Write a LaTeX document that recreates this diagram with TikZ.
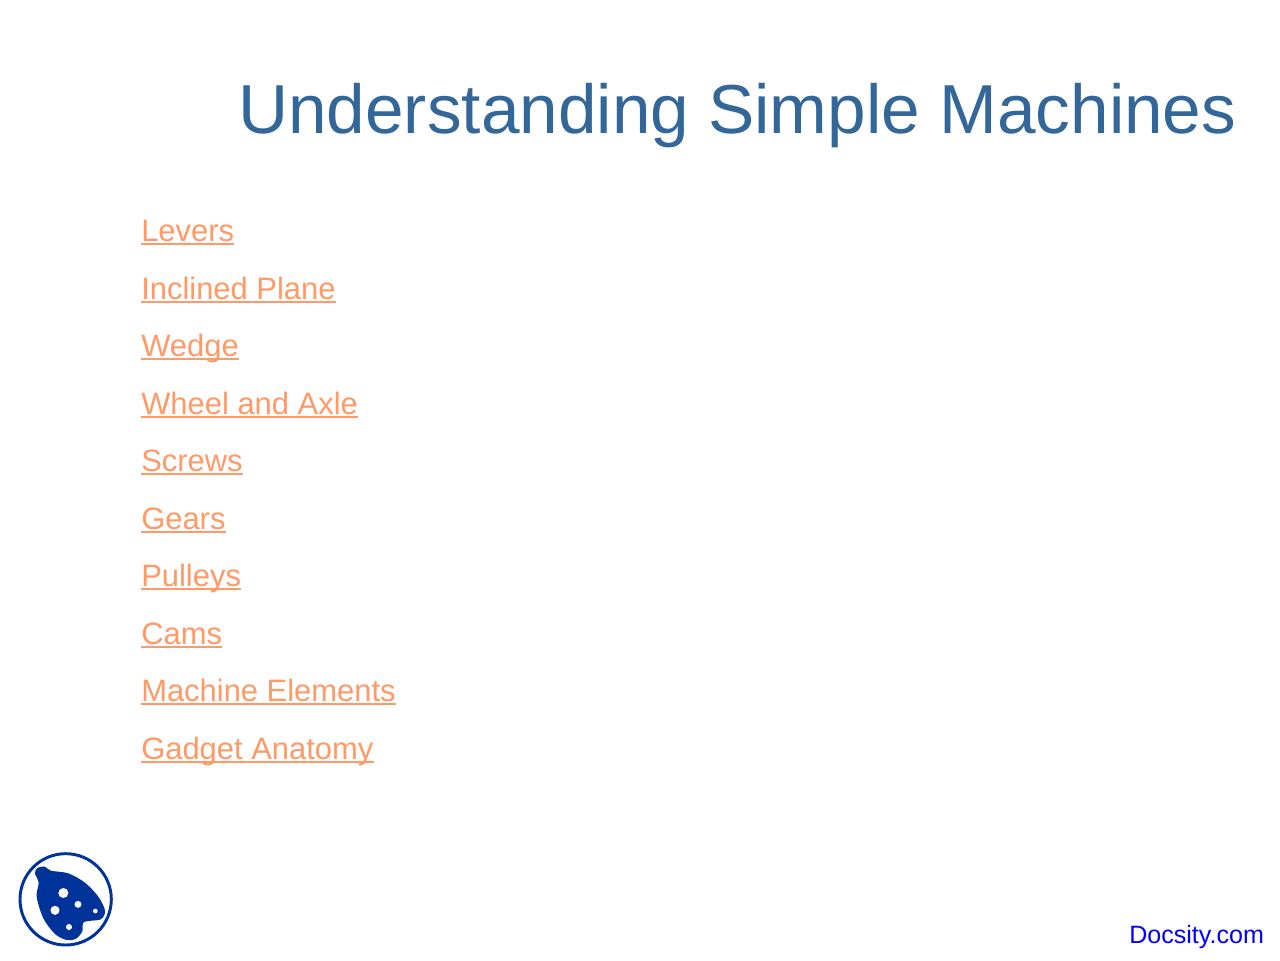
\documentclass[tikz,border=0pt]{standalone}
\usepackage{fontspec}
\setmainfont{Liberation Sans}
\definecolor{titleblue}{HTML}{336699}
\definecolor{linkorange}{HTML}{FF9966}
\definecolor{logoblue}{HTML}{003399}
\begin{document}
\begin{tikzpicture}[
    x=.75pt,
    y=-.75pt,
    heading/.style={
        anchor=base west,
        inner sep=0pt,
        text=titleblue,
        font=\fontsize{52}{60}\selectfont
    },
    link/.style={
        anchor=base west,
        inner sep=0pt,
        text=linkorange,
        font=\fontsize{23.2}{28}\selectfont
    },
    linkline/.style={
        draw=linkorange,
        line width=1.5pt
    },
    hole/.style={
        circle,
        fill=white,
        inner sep=0pt
    }
]
\useasboundingbox (0,0) rectangle (1280,960);

% Titolo
\node[heading] (title) at (238,133) {Understanding Simple Machines};

% Voci
\node[link] (levers) at (141,241) {Levers};
\node[link] (plane) at (141,299) {Inclined Plane};
\node[link] (wedge) at (141,356) {Wedge};
\node[link] (wheel) at (141,414) {Wheel and Axle};
\node[link] (screws) at (141,471) {Screws};
\node[link] (gears) at (141,529) {Gears};
\node[link] (pulleys) at (141,586) {Pulleys};
\node[link] (cams) at (141,644) {Cams};
\node[link] (elements) at (141,701) {Machine Elements};
\node[link] (anatomy) at (141,759) {Gadget Anatomy};

% Sottolineature
\foreach \item in {levers,plane,wedge,wheel,screws,gears,pulleys,cams,elements,anatomy}
    \draw[linkline] ([yshift=-2.6pt]\item.base west) -- ([yshift=-2.6pt]\item.base east);

% Logo
\begin{scope}[shift={(0,840)},x=.25pt,y=-.25pt]
    \draw[logoblue, line width=2.2pt] (197,178) ellipse (137 and 137);
    \fill[logoblue] plot[smooth cycle, tension=.5] coordinates {
        (105,100) (112,84) (135,80) (152,92) (205,100) (255,128) (295,170) (315,212)
        (302,238) (252,246) (247,274) (228,296) (200,300) (165,282)
        (130,235) (110,170) (116,128)};
    \node[hole, minimum size=7.5pt] (spota) at (190,159) {};
    \node[hole, minimum size=6.8pt] (spotb) at (165,211) {};
    \node[hole, minimum size=5.2pt] (spotc) at (234,193) {};
    \node[hole, minimum size=3.5pt] (spotd) at (286,213) {};
    \node[hole, minimum size=4.5pt] (spote) at (207,261) {};
\end{scope}

% Firma
\node[anchor=base west, inner sep=0pt, text=blue, font=\fontsize{18.8}{20}\selectfont] (docsity) at (1129,943) {Docsity.com};

\end{tikzpicture}
\end{document}
